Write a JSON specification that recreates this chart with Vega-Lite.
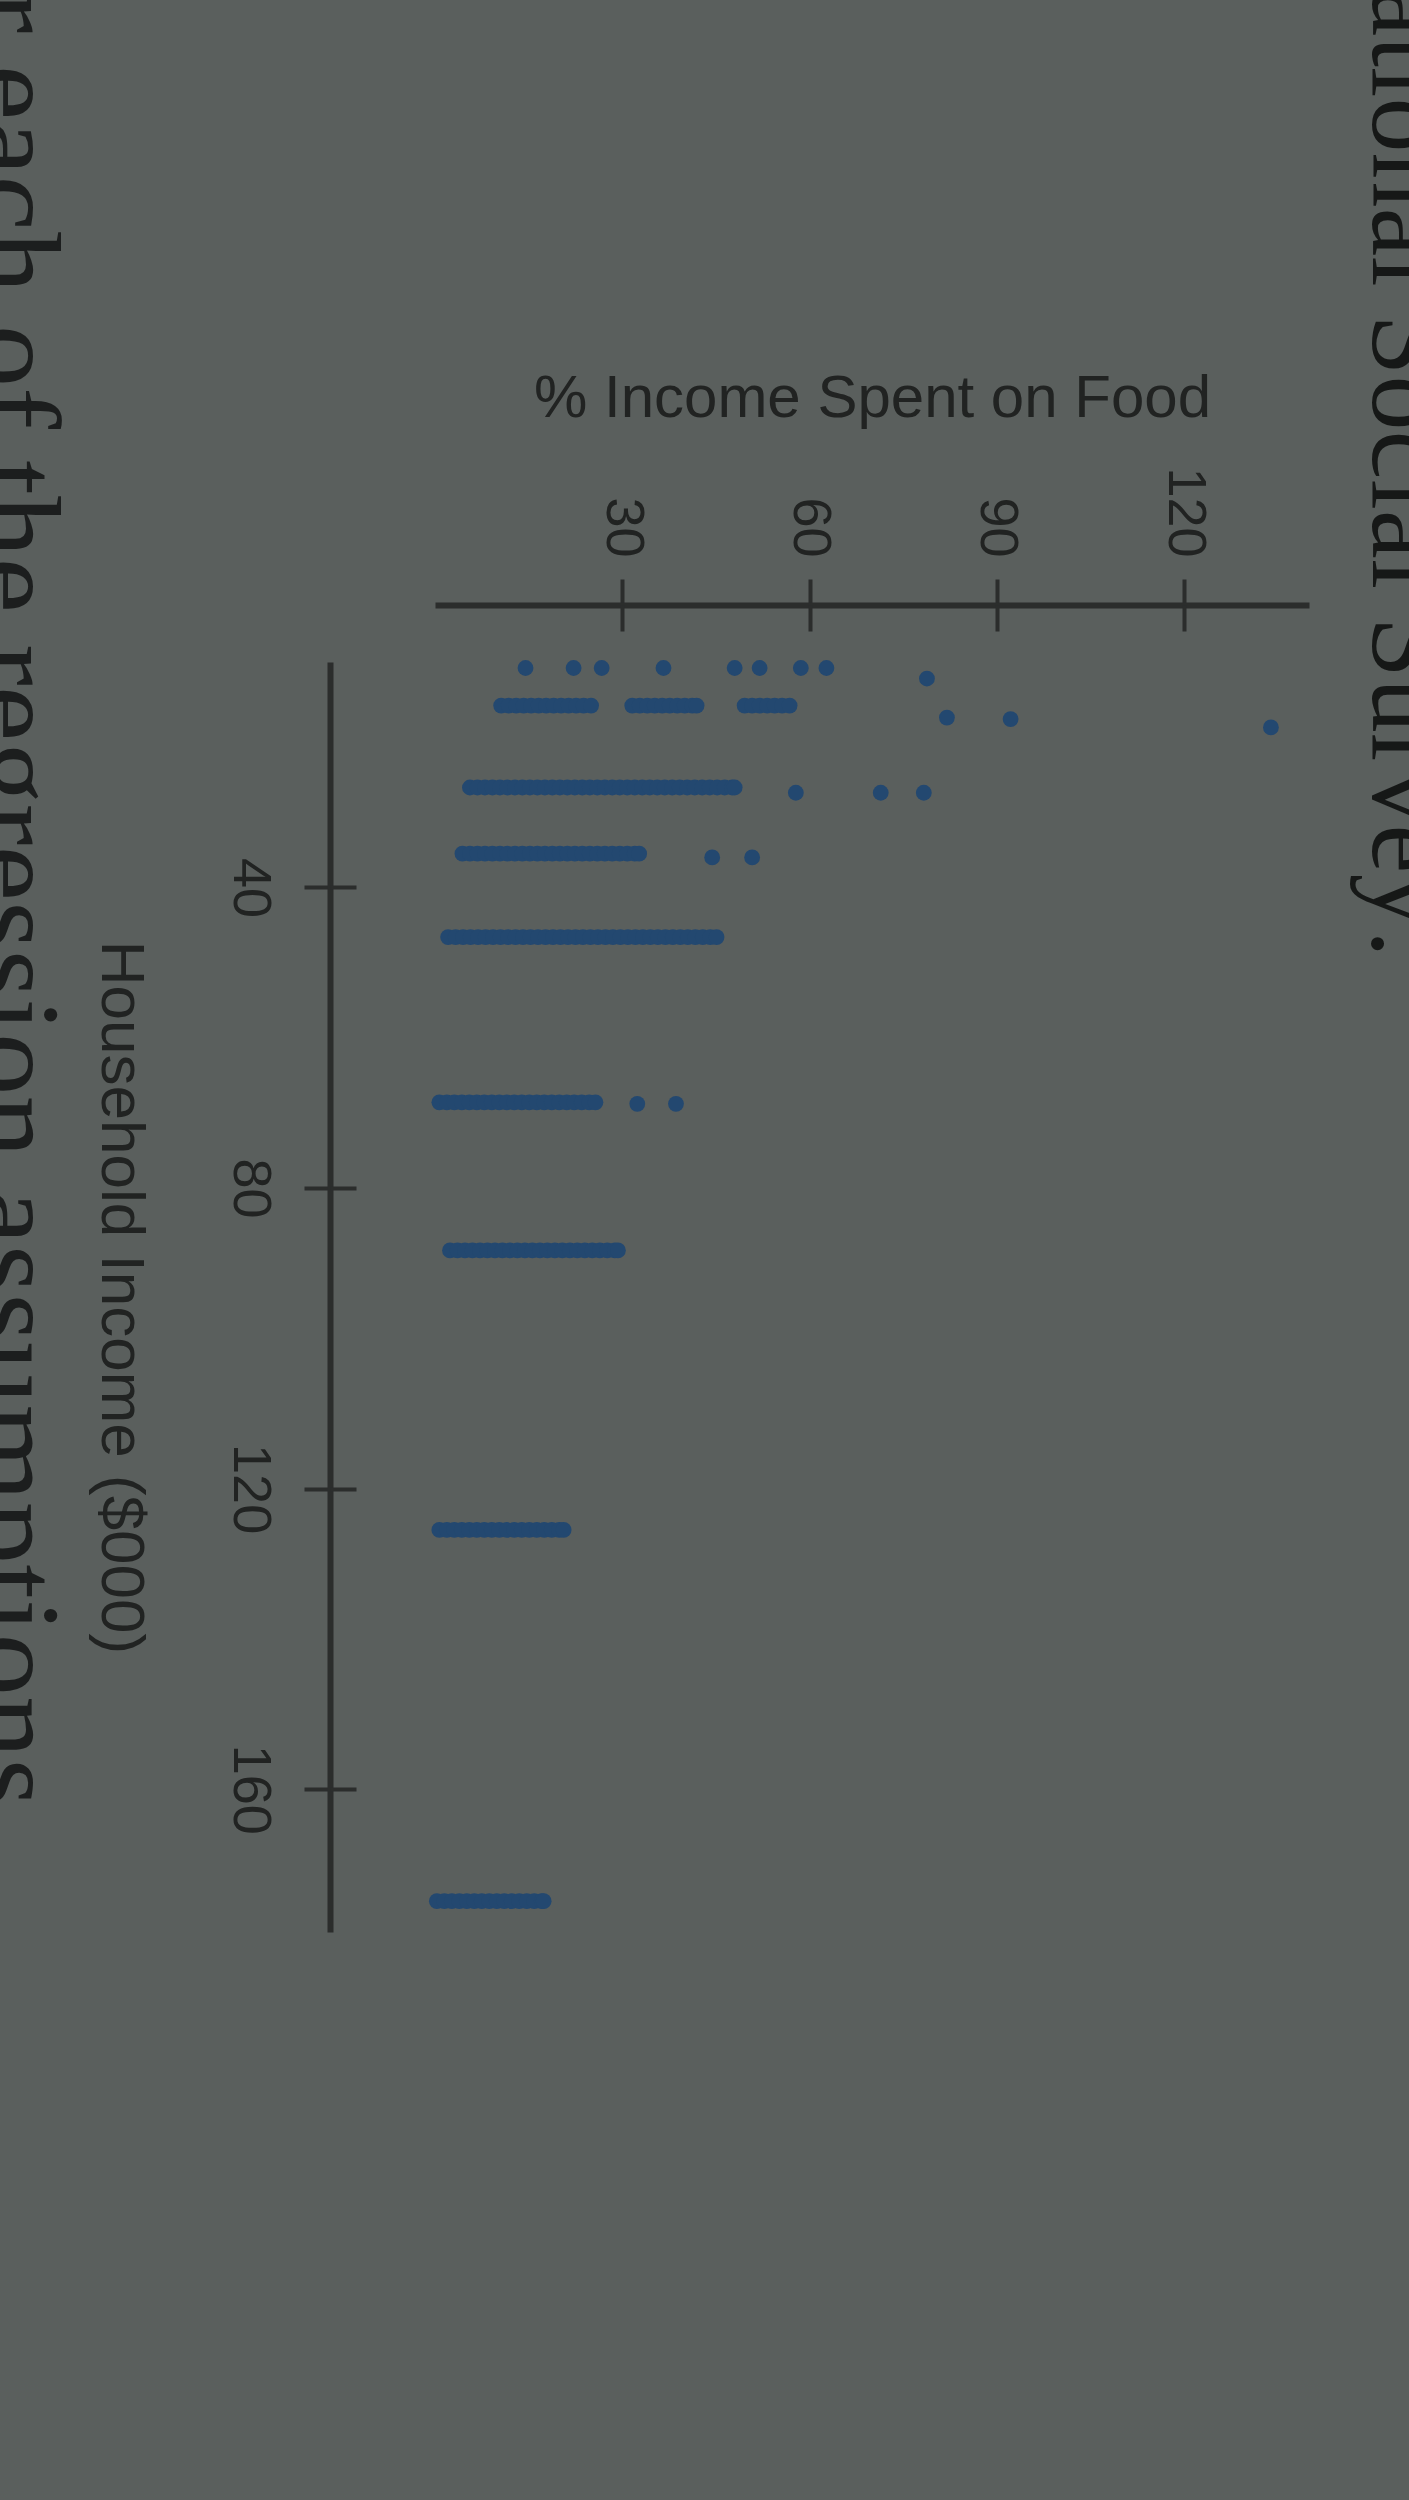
{
  "$schema": "https://vega.github.io/schema/vega-lite/v6.json",
  "description": "Household income vs % of income spent on food (photo of a textbook scatterplot, turned on its side).",
  "autosize": "none",
  "width": 874,
  "height": 1270,
  "padding": {"left": 435, "top": 662, "right": 100, "bottom": 568},
  "background": "#5a5f5d",
  "data": {
    "values": [
      {"income": 10.8, "pct": 14.5}, {"income": 10.8, "pct": 22.2}, {"income": 10.8, "pct": 26.7}, {"income": 10.8, "pct": 36.6},
      {"income": 10.8, "pct": 48.0}, {"income": 10.8, "pct": 52.0}, {"income": 10.8, "pct": 58.6}, {"income": 10.8, "pct": 62.7},
      {"income": 12.2, "pct": 78.8},
      {"income": 15.8, "pct": 10.6}, {"income": 15.8, "pct": 11.8}, {"income": 15.8, "pct": 13.0}, {"income": 15.8, "pct": 14.2},
      {"income": 15.8, "pct": 15.4}, {"income": 15.8, "pct": 16.6}, {"income": 15.8, "pct": 17.8}, {"income": 15.8, "pct": 19.0},
      {"income": 15.8, "pct": 20.2}, {"income": 15.8, "pct": 21.4}, {"income": 15.8, "pct": 22.6}, {"income": 15.8, "pct": 23.8},
      {"income": 15.8, "pct": 25.0},
      {"income": 15.8, "pct": 31.6}, {"income": 15.8, "pct": 32.8}, {"income": 15.8, "pct": 34.0}, {"income": 15.8, "pct": 35.2},
      {"income": 15.8, "pct": 36.4}, {"income": 15.8, "pct": 37.6}, {"income": 15.8, "pct": 38.8}, {"income": 15.8, "pct": 40.0},
      {"income": 15.8, "pct": 41.2}, {"income": 15.8, "pct": 41.9},
      {"income": 15.8, "pct": 49.6}, {"income": 15.8, "pct": 50.8}, {"income": 15.8, "pct": 52.0}, {"income": 15.8, "pct": 53.2},
      {"income": 15.8, "pct": 54.4}, {"income": 15.8, "pct": 55.6}, {"income": 15.8, "pct": 56.8},
      {"income": 17.4, "pct": 82.0}, {"income": 17.6, "pct": 92.2}, {"income": 18.7, "pct": 133.9},
      {"income": 26.7, "pct": 5.6}, {"income": 26.7, "pct": 6.8}, {"income": 26.7, "pct": 8.0}, {"income": 26.7, "pct": 9.2},
      {"income": 26.7, "pct": 10.4}, {"income": 26.7, "pct": 11.6}, {"income": 26.7, "pct": 12.8}, {"income": 26.7, "pct": 14.0},
      {"income": 26.7, "pct": 15.2}, {"income": 26.7, "pct": 16.4}, {"income": 26.7, "pct": 17.6}, {"income": 26.7, "pct": 18.8},
      {"income": 26.7, "pct": 20.0}, {"income": 26.7, "pct": 21.2}, {"income": 26.7, "pct": 22.4}, {"income": 26.7, "pct": 23.6},
      {"income": 26.7, "pct": 24.8}, {"income": 26.7, "pct": 26.0}, {"income": 26.7, "pct": 27.2}, {"income": 26.7, "pct": 28.4},
      {"income": 26.7, "pct": 29.6}, {"income": 26.7, "pct": 30.8}, {"income": 26.7, "pct": 32.0}, {"income": 26.7, "pct": 33.2},
      {"income": 26.7, "pct": 34.4}, {"income": 26.7, "pct": 35.6}, {"income": 26.7, "pct": 36.8}, {"income": 26.7, "pct": 38.0},
      {"income": 26.7, "pct": 39.2}, {"income": 26.7, "pct": 40.4}, {"income": 26.7, "pct": 41.6}, {"income": 26.7, "pct": 42.8},
      {"income": 26.7, "pct": 44.0}, {"income": 26.7, "pct": 45.2}, {"income": 26.7, "pct": 46.4}, {"income": 26.7, "pct": 47.6},
      {"income": 26.7, "pct": 48.0},
      {"income": 27.4, "pct": 57.8}, {"income": 27.4, "pct": 71.4}, {"income": 27.4, "pct": 78.3},
      {"income": 35.5, "pct": 4.4}, {"income": 35.5, "pct": 5.6}, {"income": 35.5, "pct": 6.8}, {"income": 35.5, "pct": 8.0},
      {"income": 35.5, "pct": 9.2}, {"income": 35.5, "pct": 10.4}, {"income": 35.5, "pct": 11.6}, {"income": 35.5, "pct": 12.8},
      {"income": 35.5, "pct": 14.0}, {"income": 35.5, "pct": 15.2}, {"income": 35.5, "pct": 16.4}, {"income": 35.5, "pct": 17.6},
      {"income": 35.5, "pct": 18.8}, {"income": 35.5, "pct": 20.0}, {"income": 35.5, "pct": 21.2}, {"income": 35.5, "pct": 22.4},
      {"income": 35.5, "pct": 23.6}, {"income": 35.5, "pct": 24.8}, {"income": 35.5, "pct": 26.0}, {"income": 35.5, "pct": 27.2},
      {"income": 35.5, "pct": 28.4}, {"income": 35.5, "pct": 29.6}, {"income": 35.5, "pct": 30.8}, {"income": 35.5, "pct": 32.0},
      {"income": 35.5, "pct": 32.7},
      {"income": 36.0, "pct": 44.4}, {"income": 36.0, "pct": 50.8},
      {"income": 46.6, "pct": 2.1}, {"income": 46.6, "pct": 3.3}, {"income": 46.6, "pct": 4.5}, {"income": 46.6, "pct": 5.7},
      {"income": 46.6, "pct": 6.9}, {"income": 46.6, "pct": 8.1}, {"income": 46.6, "pct": 9.3}, {"income": 46.6, "pct": 10.5},
      {"income": 46.6, "pct": 11.7}, {"income": 46.6, "pct": 12.9}, {"income": 46.6, "pct": 14.1}, {"income": 46.6, "pct": 15.3},
      {"income": 46.6, "pct": 16.5}, {"income": 46.6, "pct": 17.7}, {"income": 46.6, "pct": 18.9}, {"income": 46.6, "pct": 20.1},
      {"income": 46.6, "pct": 21.3}, {"income": 46.6, "pct": 22.5}, {"income": 46.6, "pct": 23.7}, {"income": 46.6, "pct": 24.9},
      {"income": 46.6, "pct": 26.1}, {"income": 46.6, "pct": 27.3}, {"income": 46.6, "pct": 28.5}, {"income": 46.6, "pct": 29.7},
      {"income": 46.6, "pct": 30.9}, {"income": 46.6, "pct": 32.1}, {"income": 46.6, "pct": 33.3}, {"income": 46.6, "pct": 34.5},
      {"income": 46.6, "pct": 35.7}, {"income": 46.6, "pct": 36.9}, {"income": 46.6, "pct": 38.1}, {"income": 46.6, "pct": 39.3},
      {"income": 46.6, "pct": 40.5}, {"income": 46.6, "pct": 41.7}, {"income": 46.6, "pct": 42.9}, {"income": 46.6, "pct": 44.1},
      {"income": 46.6, "pct": 45.1},
      {"income": 68.6, "pct": 0.7}, {"income": 68.6, "pct": 1.9}, {"income": 68.6, "pct": 3.1}, {"income": 68.6, "pct": 4.3},
      {"income": 68.6, "pct": 5.5}, {"income": 68.6, "pct": 6.7}, {"income": 68.6, "pct": 7.9}, {"income": 68.6, "pct": 9.1},
      {"income": 68.6, "pct": 10.3}, {"income": 68.6, "pct": 11.5}, {"income": 68.6, "pct": 12.7}, {"income": 68.6, "pct": 13.9},
      {"income": 68.6, "pct": 15.1}, {"income": 68.6, "pct": 16.3}, {"income": 68.6, "pct": 17.5}, {"income": 68.6, "pct": 18.7},
      {"income": 68.6, "pct": 19.9}, {"income": 68.6, "pct": 21.1}, {"income": 68.6, "pct": 22.3}, {"income": 68.6, "pct": 23.5},
      {"income": 68.6, "pct": 24.7}, {"income": 68.6, "pct": 25.7},
      {"income": 68.8, "pct": 32.4}, {"income": 68.8, "pct": 38.6},
      {"income": 88.3, "pct": 2.4}, {"income": 88.3, "pct": 3.6}, {"income": 88.3, "pct": 4.8}, {"income": 88.3, "pct": 6.0},
      {"income": 88.3, "pct": 7.2}, {"income": 88.3, "pct": 8.4}, {"income": 88.3, "pct": 9.6}, {"income": 88.3, "pct": 10.8},
      {"income": 88.3, "pct": 12.0}, {"income": 88.3, "pct": 13.2}, {"income": 88.3, "pct": 14.4}, {"income": 88.3, "pct": 15.6},
      {"income": 88.3, "pct": 16.8}, {"income": 88.3, "pct": 18.0}, {"income": 88.3, "pct": 19.2}, {"income": 88.3, "pct": 20.4},
      {"income": 88.3, "pct": 21.6}, {"income": 88.3, "pct": 22.8}, {"income": 88.3, "pct": 24.0}, {"income": 88.3, "pct": 25.2},
      {"income": 88.3, "pct": 26.4}, {"income": 88.3, "pct": 27.6}, {"income": 88.3, "pct": 28.8}, {"income": 88.3, "pct": 29.3},
      {"income": 125.5, "pct": 0.7}, {"income": 125.5, "pct": 1.9}, {"income": 125.5, "pct": 3.1}, {"income": 125.5, "pct": 4.3},
      {"income": 125.5, "pct": 5.5}, {"income": 125.5, "pct": 6.7}, {"income": 125.5, "pct": 7.9}, {"income": 125.5, "pct": 9.1},
      {"income": 125.5, "pct": 10.3}, {"income": 125.5, "pct": 11.5}, {"income": 125.5, "pct": 12.7}, {"income": 125.5, "pct": 13.9},
      {"income": 125.5, "pct": 15.1}, {"income": 125.5, "pct": 16.3}, {"income": 125.5, "pct": 17.5}, {"income": 125.5, "pct": 18.7},
      {"income": 125.5, "pct": 19.9}, {"income": 125.5, "pct": 20.6},
      {"income": 174.9, "pct": 0.3}, {"income": 174.9, "pct": 1.5}, {"income": 174.9, "pct": 2.7}, {"income": 174.9, "pct": 3.9},
      {"income": 174.9, "pct": 5.1}, {"income": 174.9, "pct": 6.3}, {"income": 174.9, "pct": 7.5}, {"income": 174.9, "pct": 8.7},
      {"income": 174.9, "pct": 9.9}, {"income": 174.9, "pct": 11.1}, {"income": 174.9, "pct": 12.3}, {"income": 174.9, "pct": 13.5},
      {"income": 174.9, "pct": 14.7}, {"income": 174.9, "pct": 15.9}, {"income": 174.9, "pct": 17.1}, {"income": 174.9, "pct": 17.4}
    ]
  },
  "layer": [
    {
      "mark": {"type": "circle", "size": 250, "color": "#234870", "opacity": 1},
      "encoding": {
        "x": {
          "field": "pct",
          "type": "quantitative",
          "scale": {"domain": [0, 140], "nice": false, "zero": false},
          "axis": {
            "orient": "top",
            "offset": 57,
            "values": [30, 60, 90, 120],
            "grid": false,
            "title": "% Income Spent on Food",
            "titleFontSize": 60,
            "titleBaseline": "alphabetic",
            "titlePadding": 50,
            "labelAngle": 90,
            "labelAlign": "right",
            "labelBaseline": "middle",
            "labelFontSize": 54,
            "labelPadding": 22,
            "tickSize": 26
          }
        },
        "y": {
          "field": "income",
          "type": "quantitative",
          "scale": {"domain": [10, 179], "nice": false, "zero": false, "reverse": true},
          "axis": {
            "orient": "left",
            "offset": 105,
            "values": [40, 80, 120, 160],
            "grid": false,
            "title": "Household Income ($000)",
            "titleFontSize": 62,
            "titleAngle": 90,
            "titleAlign": "center",
            "titleBaseline": "top",
            "titlePadding": 72,
            "labelAngle": 90,
            "labelAlign": "center",
            "labelBaseline": "top",
            "labelFontSize": 54,
            "labelPadding": 28,
            "tickSize": 26
          }
        }
      }
    },
    {
      "mark": {"type": "circle", "opacity": 0},
      "encoding": {
        "x": {
          "field": "pct",
          "type": "quantitative",
          "axis": {
            "orient": "top",
            "offset": 57,
            "values": [30, 60, 90, 120],
            "grid": false,
            "domain": false,
            "labels": false,
            "title": null,
            "tickSize": -26
          }
        },
        "y": {
          "field": "income",
          "type": "quantitative",
          "axis": {
            "orient": "left",
            "offset": 105,
            "values": [40, 80, 120, 160],
            "grid": false,
            "domain": false,
            "labels": false,
            "tickSize": -26,
            "title": "For each of the regression assumptions",
            "titleFont": "Liberation Serif",
            "titleFontSize": 125,
            "titleColor": "#1c1e1e",
            "titleAngle": 90,
            "titleAlign": "center",
            "titleBaseline": "alphabetic",
            "titlePadding": 355,
            "titleY": 171
          }
        }
      }
    },
    {
      "mark": {"type": "circle", "opacity": 0},
      "encoding": {
        "x": {"field": "pct", "type": "quantitative", "axis": null},
        "y": {
          "field": "income",
          "type": "quantitative",
          "axis": {
            "orient": "right",
            "grid": false,
            "domain": false,
            "labels": false,
            "ticks": false,
            "title": "National Social Survey:",
            "titleFont": "Liberation Serif",
            "titleFontSize": 110,
            "titleColor": "#161817",
            "titleAngle": 90,
            "titleAlign": "center",
            "titleBaseline": "alphabetic",
            "titlePadding": 63,
            "titleY": -229
          }
        }
      }
    }
  ],
  "resolve": {"axis": {"x": "independent", "y": "independent"}},
  "config": {
    "view": {"stroke": null},
    "axis": {
      "domainColor": "#2b2d2c",
      "domainWidth": 6,
      "tickColor": "#2b2d2c",
      "tickWidth": 4,
      "labelColor": "#212322",
      "labelFont": "Liberation Sans",
      "titleFont": "Liberation Sans",
      "titleFontWeight": "normal",
      "titleColor": "#212322",
      "labelFlush": false,
      "labelOverlap": false
    }
  }
}
